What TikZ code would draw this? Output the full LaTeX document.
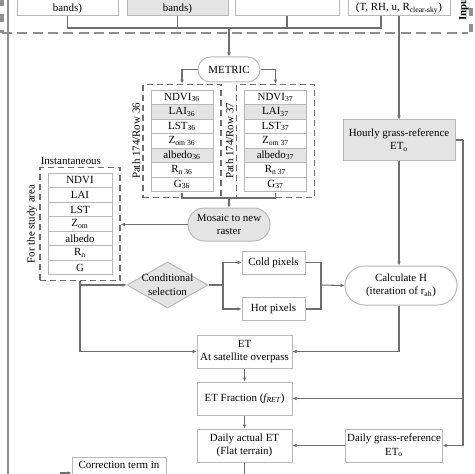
\documentclass[tikz,border=0pt]{standalone}
\usepackage{fontspec}
\setmainfont{Liberation Serif}
\usepackage{tikz}
\usetikzlibrary{arrows.meta,calc,fit,matrix,positioning,shapes.geometric}
\usepackage{xcolor}
\definecolor{FlowLine}{HTML}{6E6E6E}
\definecolor{BoxEdge}{HTML}{B8B8B8}
\definecolor{BoxShade}{HTML}{E4E4E4}
\definecolor{FrameGrey}{HTML}{8E8E8E}
\newcommand{\diagfont}{\fontsize{8.2}{10.2}\selectfont}
\tikzset{
  link/.style={line width=0.8pt,draw=FlowLine},
  flowarrow/.style={link,-{Latex[length=3pt,width=2.8pt]}},
  plainbox/.style={draw=BoxEdge,line width=0.75pt,fill=white,align=center,inner sep=1pt,font=\diagfont},
  shadebox/.style={plainbox,fill=BoxShade},
  pillbox/.style={plainbox,rounded corners=#1},
  groupbox/.style={draw=FlowLine,line width=1pt,dash pattern=on 4.5pt off 3pt,inner xsep=5.5pt,inner ysep=3.75pt},
  datatable/.style={matrix of nodes,row sep=-0.75pt,inner sep=0pt,
    nodes={draw=BoxEdge,line width=0.75pt,fill=white,minimum width=46.5pt,minimum height=10.9pt,inner sep=0pt,anchor=center,font=\diagfont}},
  shaderow/.style={nodes={fill=BoxShade}},
  sidelabel/.style={rotate=90,anchor=south,inner sep=1.5pt,font=\diagfont},
  sectionline/.style={draw=FrameGrey,line width=1.1pt},
  sectiondash/.style={draw=FrameGrey,line width=1.1pt,dash pattern=on 7.5pt off 4pt},
  edgedash/.style={draw=FrameGrey,line width=2.6pt,dash pattern=on 6pt off 6pt}
}

\begin{document}
\begin{tikzpicture}[x=0.75pt,y=-0.75pt]
  \path[use as bounding box,fill=white] (0,0) rectangle (474,474);
  \clip (0,0) rectangle (474,474);

  \draw[sectionline] (8,-10) -- (8,484);
  \draw[edgedash] (2,-2) -- (2,33);
  \draw[edgedash] (471,-8) -- (471,33);
  \draw[sectiondash] (2,33) -- (468,33);
  \node[font=\diagfont\bfseries,rotate=90,anchor=west,inner sep=0pt] (inputlbl) at (464,21) {Input};

  \node[plainbox,minimum width=75.75pt,text height=30pt,anchor=south] (bandsA) at (67.5,16) {bands)};
  \node[shadebox,minimum width=75.75pt,text height=30pt,anchor=south] (bandsB) at (177.5,16) {bands)};
  \node[plainbox,minimum width=78pt,text height=30pt,anchor=south] (inputC) at (287,16) {};
  \node[plainbox,minimum width=76.5pt,text height=30pt,anchor=south] (weather) at (399,16) {(T, RH, u, R\textsubscript{clear-sky})};
  \coordinate (busL) at (67.5,28);
  \coordinate (busR) at (381,28);
  \coordinate (busmid) at (229,28);
  \draw[link] (bandsA.south) -- (busL) -- (busR) -- (busR |- weather.south);
  \draw[link] (bandsB.south) -- (bandsB.south |- busL);
  \draw[link] (inputC.south) -- (inputC.south |- busL);

  \node[pillbox=9.3pt,minimum width=46.5pt,minimum height=18.75pt] (metric) at (229,69.5) {METRIC};
  \draw[flowarrow] (busmid) -- (metric.north);

  \matrix (t36) [datatable,row 2/.style={shaderow},row 5/.style={shaderow}] at (182,141) {
    NDVI\textsubscript{36}\\
    LAI\textsubscript{36}\\
    LST\textsubscript{36}\\
    Z\textsubscript{om 36}\\
    albedo\textsubscript{36}\\
    R\textsubscript{n 36}\\
    G\textsubscript{36}\\
  };
  \matrix (t37) [datatable,row 2/.style={shaderow},row 5/.style={shaderow}] at (275.5,141) {
    NDVI\textsubscript{37}\\
    LAI\textsubscript{37}\\
    LST\textsubscript{37}\\
    Z\textsubscript{om 37}\\
    albedo\textsubscript{37}\\
    R\textsubscript{n 37}\\
    G\textsubscript{37}\\
  };
  \node[groupbox,fit=(t36)] (g36) {};
  \node[groupbox,fit=(t37)] (g37) {};
  \node[sidelabel] (lbl36) at (g36.west) {Path 174/Row 36};
  \node[sidelabel] (lbl37) at (g37.west) {Path 174/Row 37};
  \draw[flowarrow] (metric.west) -| (g36.north);
  \draw[flowarrow] (metric.east) -| (g37.north);

  \node[pillbox=12.3pt,fill=BoxShade,minimum width=61.5pt,minimum height=24.75pt] (mosaic) at (229,224.5) {Mosaic to new\\raster};
  \coordinate (join) at (229,198);
  \draw[link] (t36.south) |- (t37.south |- join) -- (t37.south);
  \draw[flowarrow] (join) -- (mosaic.north);

  \matrix (tinst) [datatable,nodes={minimum width=48pt}] at (80,224) {
    NDVI\\
    LAI\\
    LST\\
    Z\textsubscript{om}\\
    albedo\\
    R\textsubscript{n}\\
    G\\
  };
  \node[groupbox,fit=(tinst)] (ginst) {};
  \node[sidelabel] (lblarea) at (ginst.west) {For the study area};
  \node[font=\diagfont,anchor=south west,inner sep=1pt] (lblinst) at (ginst.north west) {Instantaneous};
  \draw[flowarrow] (mosaic.west) -- (mosaic.west -| ginst.east);

  \node[shadebox,diamond,aspect=1.76,inner xsep=-5pt,inner ysep=-3pt,minimum width=60.75pt,minimum height=34.5pt] (cond) at (167.5,285) {Conditional\\selection};
  \node[plainbox,minimum width=47.25pt,minimum height=17.25pt] (cold) at (273.5,262.5) {Cold pixels};
  \node[plainbox,minimum width=47.25pt,minimum height=17.25pt] (hot) at (273.5,309) {Hot pixels};
  \node[shadebox,minimum width=84pt,minimum height=30pt] (hourly) at (399,140) {Hourly grass-reference\\ET\textsubscript{o}};
  \node[pillbox=14.6pt,minimum width=84pt,minimum height=29.25pt] (calch) at (401,285.5) {Calculate H\\(iteration of r\textsubscript{ah})};
  \coordinate (split) at (223,285);
  \coordinate (merge) at (321,285);
  \draw[flowarrow] (ginst.south |- cond.west) -- (cond.west);
  \draw[link] (cond.east) -- (split);
  \draw[flowarrow] (split) |- (cold.west);
  \draw[flowarrow] (split) |- (hot.west);
  \draw[link] (cold.east) -| (merge);
  \draw[link] (hot.east) -| (merge);
  \draw[flowarrow] (merge) -- (calch.west);
  \draw[flowarrow] (weather.south) -- (weather.south |- hourly.north);
  \draw[flowarrow] (weather.south |- hourly.south) -- (weather.south |- calch.north);

  \node[plainbox,minimum width=71.25pt,minimum height=24.75pt] (etsat) at (244.5,351.5) {ET\\At satellite overpass};
  \node[plainbox,minimum width=71.25pt,minimum height=24.75pt] (etfrac) at (244.5,398.5) {ET Fraction (\textit{f\textsubscript{RET}})};
  \node[plainbox,minimum width=71.25pt,minimum height=24.75pt] (etdaily) at (244.5,445.5) {Daily actual ET\\(Flat terrain)};
  \node[plainbox,minimum width=70.5pt,minimum height=24.75pt] (etoday) at (394,445.5) {Daily grass-reference\\ET\textsubscript{o}};
  \node[plainbox,minimum width=70.5pt,inner ysep=3pt,text depth=20pt,anchor=north] (corr) at (119,457) {Correction term in};
  \coordinate (refline) at (463,140);
  \coordinate (dailyout) at (244.5,484);
  \coordinate (corrfeed) at (60,473);
  \draw[flowarrow] (ginst.south) |- (etsat.west);
  \draw[flowarrow] (weather.south |- calch.south) |- (etsat.east);
  \draw[flowarrow] (etsat) -- (etfrac);
  \draw[flowarrow] (etfrac) -- (etdaily);
  \draw[link] (hourly.east) -- (refline);
  \draw[flowarrow] (refline) |- (etoday.east);
  \draw[flowarrow] (refline |- etfrac.east) -- (etfrac.east);
  \draw[flowarrow] (etoday.west) -- (etdaily.east);
  \draw[link] (etdaily.south) -- (dailyout);
  \draw[flowarrow] (corrfeed) -- (corrfeed -| corr.west);
\end{tikzpicture}
\end{document}
